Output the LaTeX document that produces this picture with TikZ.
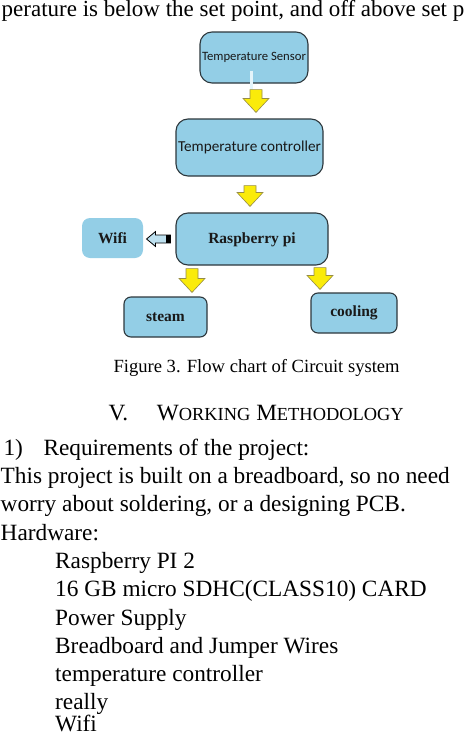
\documentclass[tikz,border=0pt]{standalone}
\usepackage{fontspec}
\setmainfont{Liberation Serif}
\newfontfamily\calibrifont{Carlito}
\usetikzlibrary{calc}
\definecolor{boxblue}{RGB}{147,206,230}
\definecolor{boxedge}{RGB}{45,55,60}
\definecolor{arrowyellow}{RGB}{250,235,10}
\definecolor{arrowedge}{RGB}{150,140,70}
\definecolor{wifiarrow}{RGB}{190,225,240}
\definecolor{textdark}{RGB}{25,25,25}
\definecolor{streak}{RGB}{228,244,250}
\begin{document}
\begin{tikzpicture}[x=1pt,y=-1pt,
  box/.style={draw=boxedge, line width=1.1pt, fill=boxblue, rounded corners=12pt, inner sep=0pt, text=textdark},
  smallbox/.style={box, rounded corners=7pt},
  labelfont/.style={font=\bfseries\fontsize{15.5}{17}\selectfont},
  bodytext/.style={anchor=base west, inner sep=0pt, text=black, font=\fontsize{23.3}{28}\selectfont},
  blockdown/.style={fill=arrowyellow, draw=arrowedge, line width=0.6pt, line join=miter,
    to path={let \p1=(\tikztostart), \p2=(\tikztotarget) in
      (\x1-6pt,\y1) -- (\x1-6pt,\y2+14pt) -- (\x1-13pt,\y2+14pt) -- (\x1,\y2) -- (\x1+13pt,\y2+14pt) -- (\x1+6pt,\y2+14pt) -- (\x1+6pt,\y1) -- cycle}},
  blockleft/.style={fill=wifiarrow, draw=black, line width=0.8pt, line join=miter,
    to path={let \p1=(\tikztostart), \p2=(\tikztotarget) in
      (\x1,\y1+4pt) -- (\x2+9pt,\y1+4pt) -- (\x2+9pt,\y1+7.5pt) -- (\x2,\y1) -- (\x2+9pt,\y1-7.5pt) -- (\x2+9pt,\y1-4pt) -- (\x1,\y1-4pt) -- cycle}}
]
\useasboundingbox (0,0) rectangle (474,736);
\begin{scope}
\clip (0,0) rectangle (474,736);
% top line of text (cut-off words as printed)
\node[bodytext, font=\fontsize{23}{28}\selectfont] (topline) at (1.5,16.5) {perature is below the set point, and off above set p};

% flow chart boxes
\node[box, minimum width=108pt, minimum height=51pt, font=\calibrifont\fontsize{12.7}{14}\selectfont] (sensor) at (254,57.5) {Temperature Sensor};
\node[box, minimum width=147pt, minimum height=57pt, font=\calibrifont\fontsize{15.2}{17}\selectfont] (ctrl) at (249.5,147.5) {Temperature controller};
\node[box, minimum width=152pt, minimum height=52pt, labelfont, text depth=2pt] (pi) at (252,239) {Raspberry pi};
\node[box, draw=none, rounded corners=8pt, minimum width=61pt, minimum height=40pt, labelfont] (wifi) at (112.5,238) {Wifi};
\node[smallbox, minimum width=83pt, minimum height=40pt, labelfont] (steam) at (165.5,317) {steam};
\node[smallbox, minimum width=86pt, minimum height=40pt, labelfont] (cooling) at (354,313) {cooling};

% connectors
\draw[streak, line width=3pt] ([xshift=-2.5pt,yshift=13pt]sensor.south) -- ([xshift=-2.5pt,yshift=-6pt]sensor.south);
\path[blockdown] ([xshift=2pt,yshift=-6pt]sensor.south) to ([yshift=6pt]ctrl.north);
\path[blockdown] ([xshift=0.5pt,yshift=-9pt]ctrl.south) to ([yshift=6pt]pi.north);
\path[blockdown] ([xshift=-60pt,yshift=-3pt]pi.south) to ([yshift=4pt]steam.north);
\path[blockdown] ([xshift=68pt,yshift=-2pt]pi.south) to ([yshift=3pt]cooling.north);
\path[blockleft] ([xshift=-5pt]pi.west) to ([xshift=3pt]wifi.east);
\draw[line width=4pt] ([xshift=-7pt,yshift=4.4pt]pi.west) -- ([xshift=-7pt,yshift=-4.4pt]pi.west);

% caption and text
\node[bodytext, font=\fontsize{18.6}{22}\selectfont] (caption) at (113.3,372.3) {Figure 3. Flow chart of Circuit system};
\node[bodytext] (secnum) at (108.3,420) {V.};
\node[bodytext] (sectitle) at (156.7,420) {W{\fontsize{18.4}{22}\selectfont ORKING} M{\fontsize{18.4}{22}\selectfont ETHODOLOGY}};
\node[bodytext] (subnum) at (3.3,455) {1)};
\node[bodytext] (subtitle) at (43.3,455) {Requirements of the project:};
\node[bodytext] (l1) at (0.5,483.3) {This project is built on a breadboard, so no need};
\node[bodytext] (l2) at (0.5,511.7) {worry about soldering, or a designing PCB.};
\node[bodytext] (l3) at (0.5,540) {Hardware:};
\node[bodytext] (i1) at (55,568.3) {Raspberry PI 2};
\node[bodytext] (i2) at (55,596.7) {16 GB micro SDHC(CLASS10) CARD};
\node[bodytext] (i3) at (55,625) {Power Supply};
\node[bodytext] (i4) at (55,653.3) {Breadboard and Jumper Wires};
\node[bodytext] (i5) at (55,681.7) {temperature controller};
\node[bodytext] (i6) at (55,709) {really};
\node[bodytext] (i7) at (55,731) {Wifi};
\end{scope}
\end{tikzpicture}
\end{document}
